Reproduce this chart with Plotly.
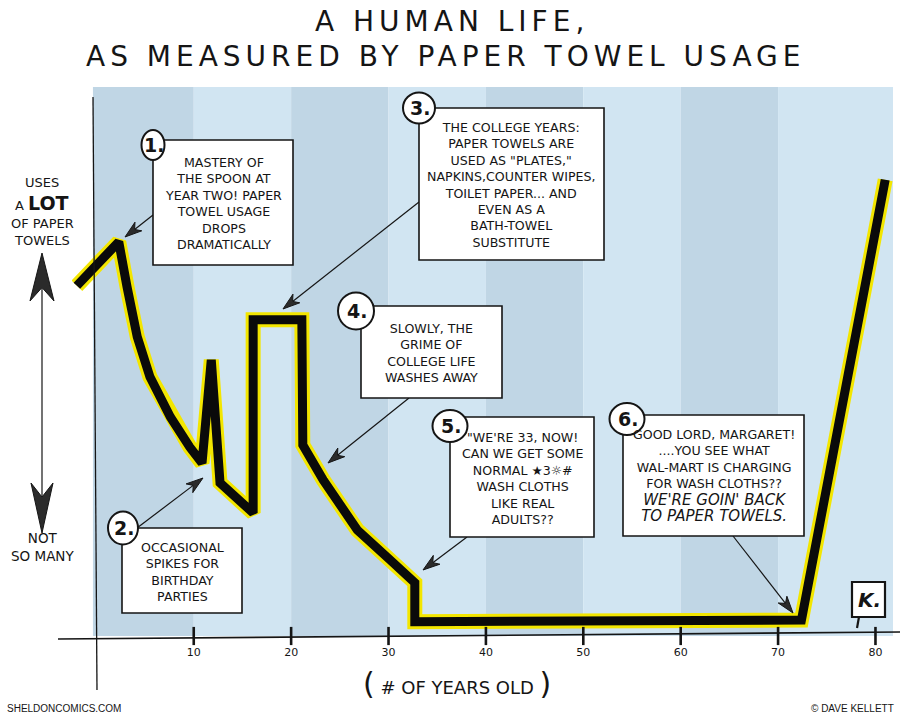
import math
import plotly.graph_objects as go

# ---------------- data ----------------
title_line1 = "A HUMAN LIFE,"
title_line2 = "AS MEASURED BY PAPER TOWEL USAGE"

age = [-2.0, 2.3, 3.15, 4.2, 5.5, 7.6, 9.6, 10.85, 11.8, 12.7, 16.1, 16.1,
       21.1, 21.2, 23.3, 26.8, 30.2, 32.7, 32.7, 72.4, 81.0]
usage = [63.8, 71.8, 63.6, 54.5, 47.2, 39.9, 34.4, 31.5, 50.3, 27.9, 22.4, 57.6,
         57.6, 34.8, 28.4, 19.3, 13.8, 9.7, 2.6, 2.9, 83.1]

tick_vals = [10, 20, 30, 40, 50, 60, 70, 80]
tick_text = ["10", "20", "30", "40", "50", "60", "70", "80"]

band_edges = [-0.35, 10, 20, 30, 40, 50, 60, 70, 81.8]
band_colors = ["#c0d6e5", "#d1e5f2"]

note_numbers = ["1.", "2.", "3.", "4.", "5.", "6."]
note_texts = [
    "MASTERY OF<br>THE SPOON AT<br>YEAR TWO! PAPER<br>TOWEL USAGE<br>DROPS<br>DRAMATICALLY",
    "OCCASIONAL<br>SPIKES FOR<br>BIRTHDAY<br>PARTIES",
    "THE COLLEGE YEARS:<br>PAPER TOWELS ARE<br>USED AS \"PLATES,\"<br>NAPKINS,COUNTER WIPES,"
    "<br>TOILET PAPER... AND<br>EVEN AS A<br>BATH-TOWEL<br>SUBSTITUTE",
    "SLOWLY, THE<br>GRIME OF<br>COLLEGE LIFE<br>WASHES AWAY",
    "\"WE'RE 33, NOW!<br>CAN WE GET SOME<br>NORMAL ★3☼#<br>WASH CLOTHS<br>LIKE REAL<br>ADULTS??",
    "GOOD LORD, MARGARET!<br>....YOU SEE WHAT<br>WAL-MART IS CHARGING<br>FOR WASH CLOTHS??<br>"
    "<i><span style='font-size:15px'>WE'RE GOIN' BACK</span></i><br>"
    "<i><span style='font-size:15px'>TO PAPER TOWELS.</span></i>",
]

x_title = "<span style='font-size:30px'>(</span> # OF YEARS OLD <span style='font-size:30px'>)</span>"
y_top_lines = ["USES", "A <b><span style='font-size:19px'>LOT</span></b>", "OF PAPER", "TOWELS"]
y_bottom_label = "NOT<br>SO MANY"
footer_left = "SHELDONCOMICS.COM"
footer_right = "© DAVE KELLETT"

# ---------------- layout geometry (pixels) ----------------
W, H = 900, 715
ML, MR, MT, MB = 72, 7, 87, 79
PW = W - ML - MR
PH = H - MT - MB
FONT = "DejaVu Sans"
INK = "#151515"


def fx(px):
    return (px - ML) / PW


def fy(py):
    return (H - MB - py) / PH


# note boxes (left, top, right, bottom) in px
boxes = [(153, 140, 293, 265), (122, 528, 242, 613), (419, 108, 604, 260),
         (361, 306, 502, 398), (450, 417, 594, 537), (623, 415, 804, 536)]
# number ovals (cx, cy, w, h)
ovals = [(153, 145, 23, 30), (123, 528, 30, 33), (419, 108, 32, 31),
         (356, 311, 36, 37), (450, 426, 35, 32), (627, 419, 35, 32)]
# arrows (tail, tip)
arrows = [((153, 215), (125, 237)), ((137, 528), (203, 478)), ((419, 202), (283, 309)),
          ((409, 398), (328, 463)), ((467, 537), (423, 570)), ((733, 536), (793, 613))]

shapes = []
annotations = []


def note(px, py, text, size, **kw):
    font = dict(family=kw.pop("family", FONT), size=size, color=INK)
    if "weight" in kw:
        font["weight"] = kw.pop("weight")
    d = dict(xref="paper", yref="paper", x=fx(px), y=fy(py), text=text, showarrow=False,
             xanchor=kw.pop("xanchor", "center"), yanchor=kw.pop("yanchor", "middle"),
             align=kw.pop("align", "center"), font=font)
    d.update(kw)
    annotations.append(d)


# background bands
for i in range(len(band_edges) - 1):
    shapes.append(dict(type="rect", xref="x", yref="paper", x0=band_edges[i], x1=band_edges[i + 1],
                       y0=0, y1=1, fillcolor=band_colors[i % 2], line=dict(width=0), layer="below"))

# axis lines (hand drawn look)
shapes.append(dict(type="line", xref="paper", yref="paper", x0=fx(58), y0=fy(639), x1=fx(900), y1=fy(632),
                   line=dict(color=INK, width=1.6)))
shapes.append(dict(type="line", xref="paper", yref="paper", x0=fx(93), y0=fy(97), x1=fx(97), y1=fy(690),
                   line=dict(color=INK, width=1.3)))


def add_arrow(tail, tip, L=17, Wd=11, lw=1.2):
    (x0, y0), (x1, y1) = tail, tip
    dx, dy = x0 - x1, y0 - y1
    d = math.hypot(dx, dy)
    ux, uy = dx / d, dy / d
    nx, ny = -uy, ux
    bx, by = x1 + ux * L, y1 + uy * L
    mx, my = x1 + ux * L * 0.72, y1 + uy * L * 0.72
    shapes.append(dict(type="line", xref="paper", yref="paper", x0=fx(x0), y0=fy(y0), x1=fx(mx), y1=fy(my),
                       line=dict(color=INK, width=lw)))
    pts = [(x1, y1), (bx + nx * Wd / 2, by + ny * Wd / 2), (mx, my), (bx - nx * Wd / 2, by - ny * Wd / 2)]
    path = "M " + " L ".join(f"{fx(a):.5f},{fy(b):.5f}" for a, b in pts) + " Z"
    shapes.append(dict(type="path", xref="paper", yref="paper", path=path, fillcolor="#2b2b2b",
                       line=dict(color=INK, width=1)))


for tail, tip in arrows:
    add_arrow(tail, tip)

# y double arrow
add_arrow((42, 400), (42, 253), L=48, Wd=24)
add_arrow((42, 400), (42, 533), L=50, Wd=22)

# boxes and texts
for (l, t, r, b), txt in zip(boxes, note_texts):
    shapes.append(dict(type="rect", xref="paper", yref="paper", x0=fx(l), x1=fx(r), y0=fy(b), y1=fy(t),
                       fillcolor="white", line=dict(color=INK, width=1.6)))
    note((l + r) / 2, (t + b) / 2 + 1, txt, 12.6)

for (cx, cy, w, h), num in zip(ovals, note_numbers):
    shapes.append(dict(type="circle", xref="paper", yref="paper", x0=fx(cx - w / 2), x1=fx(cx + w / 2),
                       y0=fy(cy + h / 2), y1=fy(cy - h / 2), fillcolor="white", line=dict(color=INK, width=2)))
    note(cx + 1, cy, num, 19, weight="bold")

# signature
shapes.append(dict(type="rect", xref="paper", yref="paper", x0=fx(852), x1=fx(885), y0=fy(617), y1=fy(582),
                   fillcolor="white", line=dict(color=INK, width=2.2)))
shapes.append(dict(type="line", xref="paper", yref="paper", x0=fx(859), y0=fy(617), x1=fx(857), y1=fy(628),
                   line=dict(color=INK, width=2.2)))
note(869, 600, "<b><i>K.</i></b>", 20)

# title
SP = "<span style='letter-spacing:5px'>{}</span>"
note(452, 21, SP.format(title_line1), 28)
note(445, 57, SP.format(title_line2), 28)

# x title
note(457, 683, x_title, 18)

# y labels
for py, txt in zip([182, 203, 223, 240], y_top_lines):
    note(42, py, txt, 13)
note(42, 547, y_bottom_label, 13.5)

# footers
note(5, 708, footer_left, 10, xanchor="left", family="Liberation Sans Narrow, Liberation Sans")
note(896, 708, footer_right, 10, xanchor="right", family="Liberation Sans Narrow, Liberation Sans")

fig = go.Figure()
fig.add_trace(go.Scatter(x=age, y=usage, mode="lines", line=dict(color="#f3e600", width=15),
                         hoverinfo="skip", showlegend=False, cliponaxis=False))
fig.add_trace(go.Scatter(x=age, y=usage, mode="lines", line=dict(color="#0a0a0a", width=9),
                         showlegend=False, cliponaxis=False))
fig.add_trace(go.Scatter(x=tick_vals, y=[0] * len(tick_vals), mode="markers",
                         marker=dict(symbol="line-ns", size=13, line=dict(width=2.6, color=INK)),
                         hoverinfo="skip", showlegend=False, cliponaxis=False))

fig.update_layout(
    width=W, height=H,
    margin=dict(l=ML, r=MR, t=MT, b=MB, pad=0),
    paper_bgcolor="white", plot_bgcolor="white",
    xaxis=dict(range=[-2.5, 81.8], showgrid=False, zeroline=False, showline=False,
               tickvals=tick_vals, ticktext=tick_text, ticks="", ticklabelstandoff=8,
               tickfont=dict(family=FONT, size=11, color=INK)),
    yaxis=dict(range=[0, 100], visible=False),
    shapes=shapes, annotations=annotations,
    showlegend=False,
)

fig.write_html("out.html")
